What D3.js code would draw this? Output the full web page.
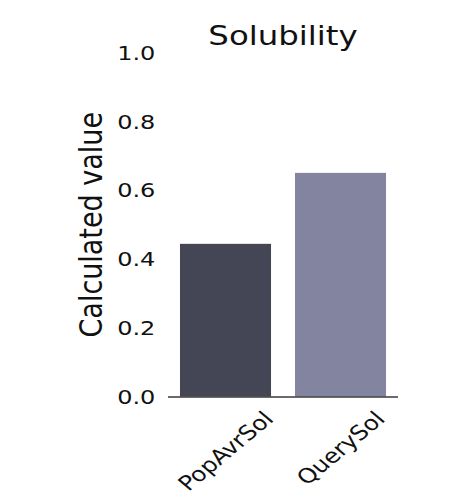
<!DOCTYPE html>
<html>
<head>
<meta charset="utf-8">
<script src="https://cdn.jsdelivr.net/npm/d3@7"></script>
<style>
  body { margin: 0; background: #fff; }
  text { font-family: "DejaVu Sans", sans-serif; fill: #111; }
</style>
</head>
<body>
<div id="chart"></div>
<script>
// chart data
const categories = ["PopAvrSol", "QuerySol"];
const values = [0.446, 0.652];
const barColors = ["#454655", "#8385a0"];
const yTicks = [0.0, 0.2, 0.4, 0.6, 0.8, 1.0];
const titleText = "Solubility";
const yLabelText = "Calculated value";

const W = 474, H = 501;
// the reference picture is stretched sideways, so draw narrow and widen
const stretch = 1.2;
const plot = { left: 168 / stretch, right: 398 / stretch, top: 52.5, bottom: 397 };

const svg = d3.select("#chart").append("svg")
    .attr("width", W)
    .attr("height", H);

const g = svg.append("g")
    .attr("transform", `scale(${stretch},1)`);

const x = d3.scaleBand()
    .domain(categories)
    .range([plot.left, plot.right])
    .paddingInner(0.2)
    .paddingOuter(0.1);

const y = d3.scaleLinear()
    .domain([0, 1])
    .range([plot.bottom, plot.top]);

// bars
g.append("g").attr("class", "bars")
    .selectAll("rect")
    .data(categories)
    .join("rect")
    .attr("x", d => x(d))
    .attr("width", x.bandwidth())
    .attr("y", (d, i) => y(values[i]))
    .attr("height", (d, i) => y(0) - y(values[i]))
    .attr("fill", (d, i) => barColors[i])
    .attr("stroke", "#fff")
    .attr("stroke-width", 0.8);

// bottom spine only
g.append("line")
    .attr("x1", plot.left).attr("x2", plot.right)
    .attr("y1", y(0)).attr("y2", y(0))
    .attr("stroke", "#3a3a3a")
    .attr("stroke-width", 1.3);

// y tick labels, no tick marks
g.append("g").attr("class", "yticks")
    .selectAll("text")
    .data(yTicks)
    .join("text")
    .attr("x", plot.left - 10.5)
    .attr("y", d => y(d))
    .attr("dy", "0.36em")
    .attr("text-anchor", "end")
    .attr("font-size", 20)
    .text(d => d.toFixed(1));

// x tick labels, rotated and centred under each bar
const angle = 45;
const rad = angle * Math.PI / 180;
const labelTop = y(0) + 11;
const xl = g.append("g").attr("class", "xticks")
    .selectAll("text")
    .data(categories)
    .join("text")
    .attr("text-anchor", "middle")
    .attr("dy", "0.35em")
    .attr("font-size", 20.5)
    .text(d => d);

xl.attr("transform", function (d) {
    const len = this.getComputedTextLength();
    const cy = labelTop + (len * Math.sin(rad) + 20 * Math.cos(rad)) / 2;
    return `translate(${x(d) + x.bandwidth() / 2},${cy}) rotate(${-angle})`;
});

// title
g.append("text")
    .attr("x", (plot.left + plot.right) / 2)
    .attr("y", 45)
    .attr("text-anchor", "middle")
    .attr("font-size", 27)
    .text(titleText);

// y axis label
g.append("text")
    .attr("transform", `translate(${102 / stretch},${(plot.top + plot.bottom) / 2}) rotate(-90)`)
    .attr("text-anchor", "middle")
    .attr("font-size", 27)
    .text(yLabelText);
</script>
</body>
</html>
